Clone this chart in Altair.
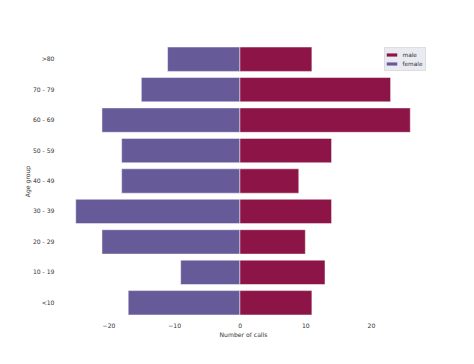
import altair as alt
import pandas as pd

age_groups = [">80", "70 - 79", "60 - 69", "50 - 59", "40 - 49", "30 - 39", "20 - 29", "10 - 19", "<10"]
male = [11, 23, 26, 14, 9, 14, 10, 13, 11]
female = [11, 15, 21, 18, 18, 25, 21, 9, 17]
x_ticks = [-20, -10, 0, 10, 20]

rows = []
for g, m, f in zip(age_groups, male, female):
    rows.append({"age": g, "sex": "male", "value": m})
    rows.append({"age": g, "sex": "female", "value": -f})
df = pd.DataFrame(rows)

font = "DejaVu Sans"
fs = 6.1
rect_path = "M-1,-0.3L1,-0.3L1,0.3L-1,0.3Z"

chart = alt.Chart(df).mark_bar(stroke="white", strokeWidth=0.8, strokeOpacity=0.6).encode(
    x=alt.X("value:Q", title="Number of calls",
            scale=alt.Scale(domain=[-27.55, 28.55], nice=False, zero=False),
            axis=alt.Axis(values=x_ticks, grid=False, domain=False, ticks=False,
                          labelPadding=4, titlePadding=3, labelFontSize=fs, titleFontSize=fs,
                          labelFont=font, titleFont=font, labelColor="#333333",
                          titleColor="#333333", titleFontWeight="normal")),
    y=alt.Y("age:N", title="Age group", sort=age_groups,
            scale=alt.Scale(paddingInner=0.2, paddingOuter=0.1),
            axis=alt.Axis(grid=False, domain=False, ticks=False, labelPadding=5,
                          titleX=-32, titleY=137, titleBaseline="middle",
                          labelFontSize=fs, titleFontSize=fs,
                          labelFont=font, titleFont=font, labelColor="#333333",
                          titleColor="#333333", titleFontWeight="normal")),
    color=alt.Color("sex:N", sort=["male", "female"],
                    scale=alt.Scale(domain=["male", "female"], range=["#8c1446", "#665a99"]),
                    legend=alt.Legend(title=None, orient="none", legendX=325, legendY=3,
                                      symbolType=rect_path, symbolSize=110,
                                      symbolStrokeWidth=0, labelFontSize=5.8, labelFont=font,
                                      labelColor="#333333", fillColor="#eaeaf2",
                                      strokeColor="#dddddd", padding=2.5, rowPadding=0,
                                      labelOffset=5)),
).properties(
    width=368, height=274,
    padding={"left": 51, "top": 36, "right": 30, "bottom": 30},
    autosize=alt.AutoSizeParams(type="none"),
    background="white",
).configure_view(stroke=None)

chart.save("out.html", embed_options={"renderer": "svg", "actions": False})
